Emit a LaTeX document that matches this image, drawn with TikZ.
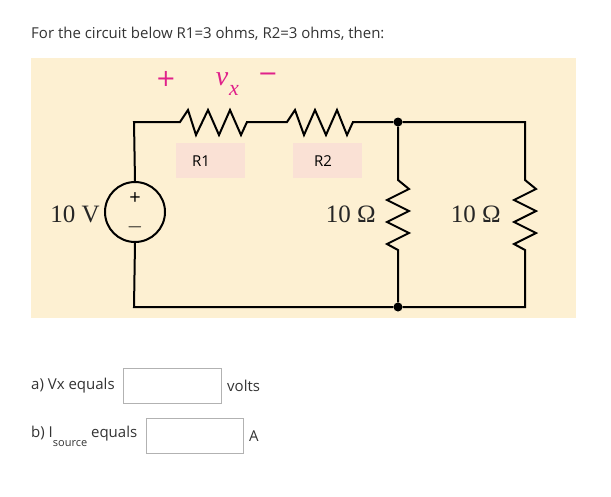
\documentclass[tikz,border=0pt]{standalone}
\usepackage{fontspec}
\setmainfont{Open Sans}
\newfontfamily\lsr{Liberation Serif}
\newfontfamily\lss{DejaVu Sans}
\usetikzlibrary{calc}
\definecolor{cream}{HTML}{FDF0D2}
\definecolor{pinkbox}{HTML}{FAE1D5}
\definecolor{mag}{HTML}{E0218A}
\definecolor{txt}{HTML}{333333}
\begin{document}
\begin{tikzpicture}[x=1pt,y=-1pt,
  wire/.style={line width=2pt,black,line join=miter},
  dot/.style={circle,fill=black,inner sep=0pt,minimum size=9pt},
  lbl/.style={font=\fontsize{15}{17}\selectfont,text=txt,anchor=west,inner sep=0pt},
  inbox/.style={draw=gray!60,fill=white,line width=0.6pt},
  val/.style={font=\lsr\fontsize{25}{27}\selectfont,inner sep=0pt,text=black!85},
  mg/.style={font=\lss\fontsize{24}{24}\selectfont,text=mag,inner sep=0pt}]
\useasboundingbox (0,0) rectangle (611,496);
\fill[cream] (31,58) rectangle (576,318);
\node[lbl] (q) at (31,34) {For the circuit below R1=3 ohms, R2=3 ohms, then:};
% label boxes
\fill[pinkbox] (176,143) rectangle (245,178);
\fill[pinkbox] (293,143) rectangle (362,178);
\node[lbl,text=black] (l1) at (192,161) {R1};
\node[lbl,text=black] (l2) at (314,161) {R2};
% nodes
\coordinate (tl) at (134,122);
\coordinate (bl) at (134,307);
\node[dot] (jt) at (398,122) {};
\node[dot] (jb) at (398,307) {};
\coordinate (tr) at (525,122);
\coordinate (br) at (525,307);
\node[circle,draw,line width=2pt,minimum size=60pt,inner sep=0pt] (src) at (135,212) {};
\node[font=\fontsize{20}{20}\selectfont,inner sep=0pt] (sp) at (135,199) {+};
\node[font=\fontsize{20}{20}\selectfont,inner sep=0pt] (sm) at (135,227) {$-$};
\node[val,anchor=east] (v) at (100,214) {10 V};
\node[val,anchor=east] (o1) at (376,214) {10 Ω};
\node[val,anchor=east] (o2) at (501,214) {10 Ω};
\node[mg] (pl) at (166,79) {+};
\node[font=\lsr\itshape\fontsize{28}{28}\selectfont,text=mag,inner sep=0pt] (vx) at (222,79) {v};
\node[font=\lsr\itshape\fontsize{22}{22}\selectfont,text=mag,inner sep=0pt,anchor=west] (xx) at (229,90) {x};
\node[mg] (mi) at (268,77) {−};
% wires
\draw[wire] (src.south) -- (bl) -- (jb) -- (br) -- (525,250)
  -- (514,244) -- (536,233) -- (514,222) -- (536,211) -- (514,200) -- (536,189) -- (525,180) -- (tr) -- (jt);
\draw[wire] (src.north) -- (tl) -- (180,122) -- (188,110) -- (196,135) -- (208,110) -- (219,135) -- (230,110) -- (241,135) -- (247,122) -- (287,122)
  -- (295,110) -- (304,135) -- (315,110) -- (326,135) -- (337,110) -- (347,135) -- (353,122) -- (jt);
\draw[wire] (jt) -- (398,180) -- (409,189) -- (387,200) -- (409,211) -- (387,222) -- (409,233) -- (387,244) -- (398,250) -- (jb);
% answers
\node[lbl] (a) at (31,386) {a) Vx equals};
\draw[inbox] (123,368) rectangle (221,403);
\node[lbl] (u1) at (227,386) {volts};
\node[lbl] (b) at (31,436) {b) I\raisebox{-1.1ex}{\fontsize{11}{11}\selectfont source} equals};
\draw[inbox] (146,418) rectangle (243,453);
\node[lbl] (u2) at (249,436) {A};
\end{tikzpicture}
\end{document}
